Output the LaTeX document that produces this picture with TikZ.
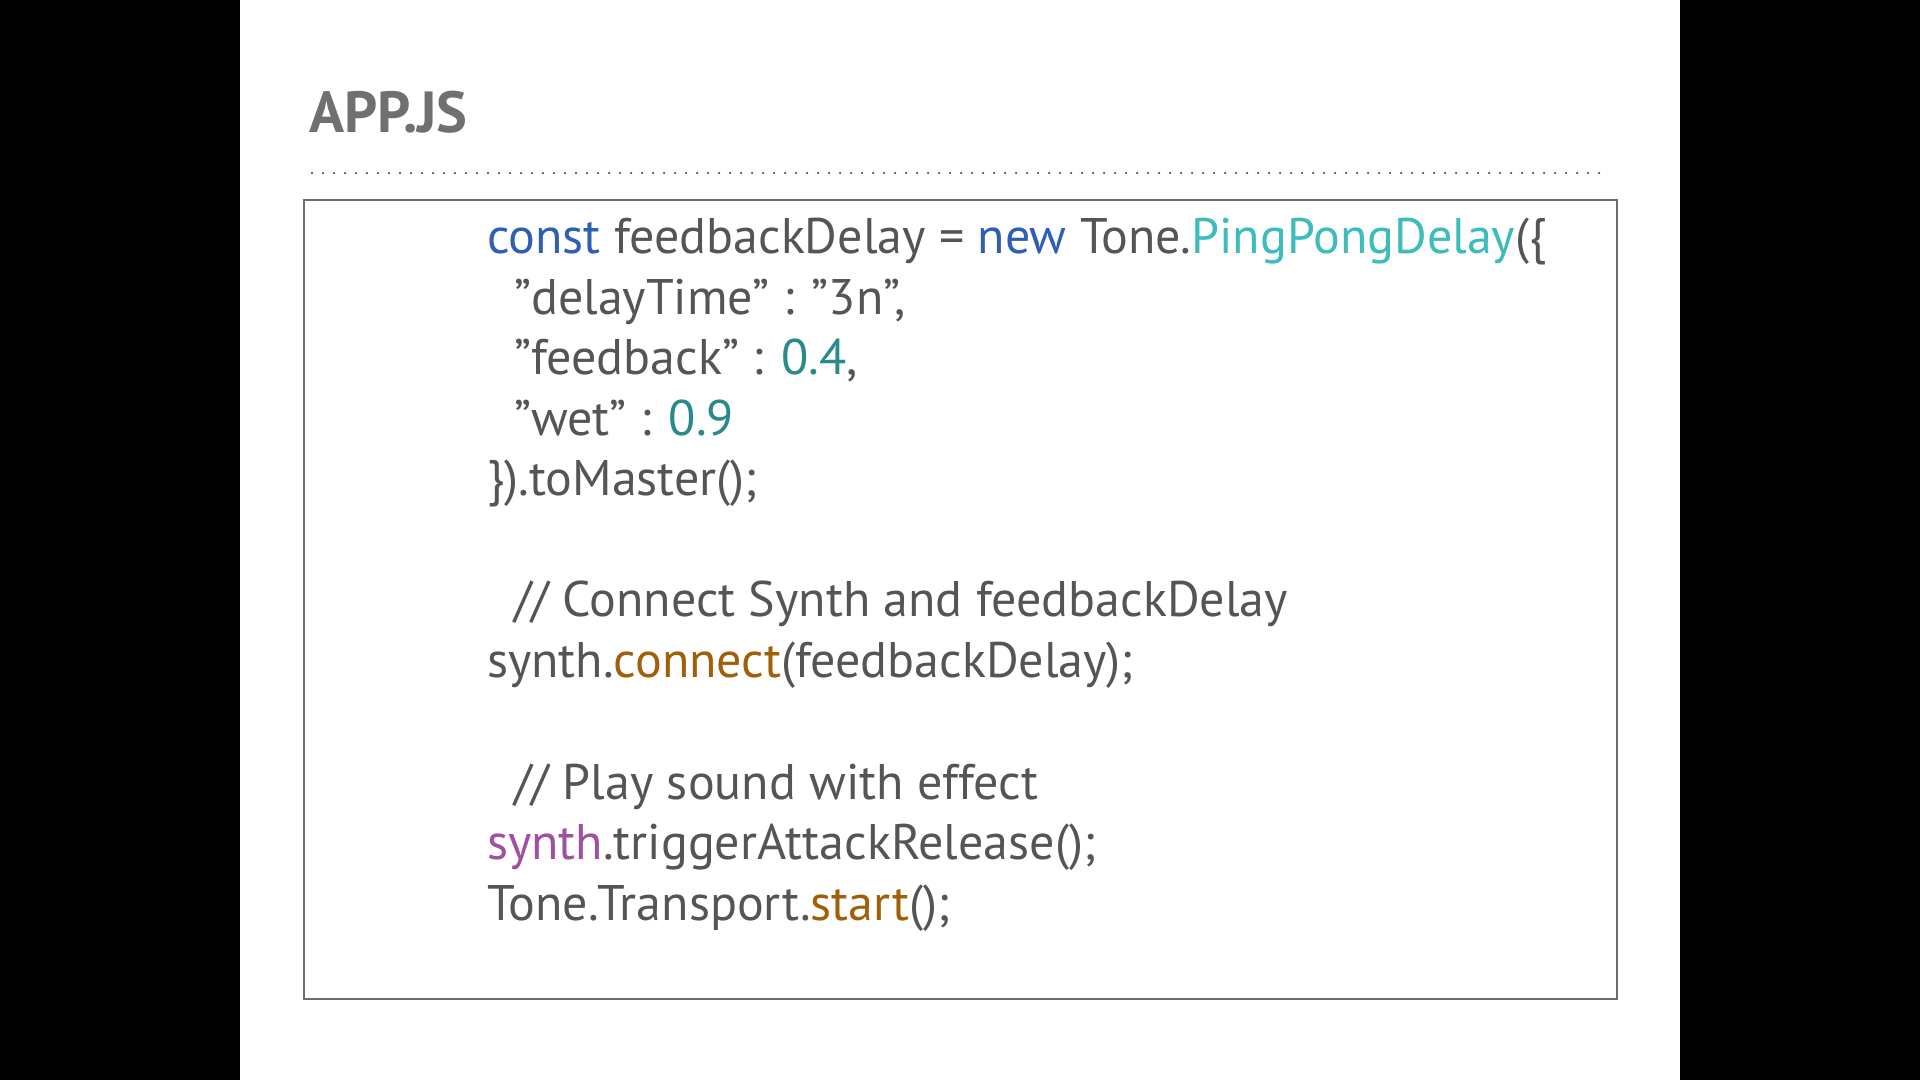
\documentclass[tikz,border=0pt]{standalone}
\usepackage{fontspec}
\setmainfont{PT Sans}
\definecolor{txt}{HTML}{555555}
\definecolor{ttl}{HTML}{707070}
\definecolor{kw}{HTML}{2F5FB5}
\definecolor{cls}{HTML}{3DBCBC}
\definecolor{num}{HTML}{2A8A8A}
\definecolor{fn}{HTML}{A0600A}
\definecolor{sy}{HTML}{A050A0}
\newcommand{\kw}[1]{\textcolor{kw}{#1}}
\newcommand{\cls}[1]{\textcolor{cls}{#1}}
\newcommand{\num}[1]{\textcolor{num}{#1}}
\newcommand{\fn}[1]{\textcolor{fn}{#1}}
\newcommand{\sy}[1]{\textcolor{sy}{#1}}
\newcommand{\q}{\symbol{34}}
\tikzset{code/.style={anchor=base west, inner sep=0pt, text=txt, font=\fontsize{50}{50}\selectfont}}

\begin{document}
\begin{tikzpicture}[x=1pt,y=-1pt]
        \fill[black] (0,0) rectangle (1920,1080);
        \fill[white] (240,0) rectangle (1680,1080);
        \useasboundingbox (0,0) rectangle (1920,1080);
        \node[anchor=west, inner sep=0pt, text=ttl, font=\fontsize{58}{58}\selectfont\bfseries] (title) at (309,112) {APP.JS};
        \draw[txt, line width=2.5pt, dash pattern=on 0pt off 11pt, line cap=round] (312,173) -- (1610,173);
        \draw[txt!85, line width=2.5pt] (304,200) rectangle (1617,999);

        \node[code] (l1) at (487,253) {\kw{const} feedbackDelay = \kw{new} Tone.\cls{PingPongDelay}(\{};
        \node[code] (l2) at (514,314) {\q delayTime\q{} : \q 3n\q,};
        \node[code] (l3) at (514,374) {\q feedback\q{} : \num{0.4},};
        \node[code] (l4) at (514,435) {\q wet\q{} : \num{0.9}};
        \node[code] (l5) at (487,495) {\}).toMaster();};
        \node[code] (l6) at (514,616) {// Connect Synth and feedbackDelay};
        \node[code] (l7) at (487,677) {synth.\fn{connect}(feedbackDelay);};
        \node[code] (l8) at (514,799) {// Play sound with effect};
        \node[code] (l9) at (487,859) {\sy{synth}.triggerAttackRelease();};
        \node[code] (l10) at (487,920) {Tone.Transport.\fn{start}();};
\end{tikzpicture}
\end{document}
